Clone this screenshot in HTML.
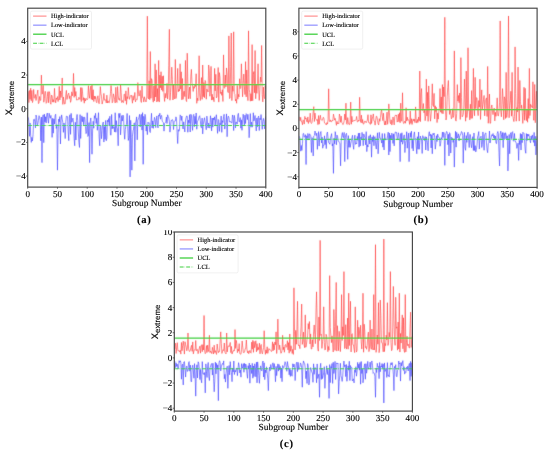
<!DOCTYPE html><html><head><meta charset="utf-8"><style>html,body{margin:0;padding:0;background:#fff}text{text-rendering:geometricPrecision}svg{display:block}.t{font-family:"Liberation Serif",serif;fill:#000;stroke:#000;stroke-width:0.12px}.m{font-family:"Liberation Sans",sans-serif;fill:#000;stroke:#000;stroke-width:0.12px}</style></head><body>
<svg width="550" height="454" viewBox="0 0 550 454">
<filter id="bl" x="0" y="0" width="550" height="454" filterUnits="userSpaceOnUse"><feConvolveMatrix order="3" kernelMatrix="0.0100 0.0800 0.0100 0.0800 0.6400 0.0800 0.0100 0.0800 0.0100" edgeMode="duplicate"/></filter>
<rect width="550" height="454" fill="#fff"/>
<g>
<clipPath id="axa"><rect x="27.7" y="8.2" width="238.10000000000002" height="178.9"/></clipPath>
<g filter="url(#bl)"><g clip-path="url(#axa)">
<polyline points="28.3,91.13 28.89,102.58 29.49,90.43 30.08,99.32 30.68,88.19 31.27,100.77 31.87,90.42 32.46,102.6 33.06,100.31 33.65,89.43 34.25,97.66 34.84,98.34 35.44,94.51 36.03,100.48 36.63,96.66 37.22,93.56 37.82,90.04 38.41,103.58 39.01,103.11 39.61,96.46 40.2,100.41 40.8,100.23 41.39,75.09 41.99,94.23 42.58,93.38 43.18,85.24 43.77,102.19 44.37,98.67 44.96,91.28 45.56,91.68 46.15,103.33 46.75,102.54 47.34,96.44 47.94,91.74 48.53,102.71 49.13,91.56 49.72,93.21 50.32,102.63 50.91,104.22 51.51,95.02 52.11,95.86 52.7,102.1 53.3,99.65 53.89,102.24 54.49,88.34 55.08,99.19 55.68,102.81 56.27,98.03 56.87,99.5 57.46,96.55 58.06,101.55 58.65,98.82 59.25,86.36 59.84,99.97 60.44,90.95 61.03,97.48 61.63,92.13 62.22,77.95 62.82,104.4 63.42,97.04 64.01,101.05 64.61,104.18 65.2,103.57 65.8,94.75 66.39,90.4 66.99,99.46 67.58,96 68.18,94.07 68.77,93.1 69.37,98.6 69.96,95.82 70.56,102.35 71.15,100.17 71.75,91.82 72.34,95.87 72.94,92.48 73.53,73.41 74.13,97.39 74.72,87.51 75.32,96.14 75.92,91.54 76.51,100.02 77.11,99.66 77.7,99.72 78.3,99.72 78.89,97.29 79.49,98.59 80.08,99.51 80.68,87.5 81.27,101.6 81.87,87.65 82.46,91.14 83.06,100.24 83.65,97.58 84.25,103.2 84.84,98.07 85.44,101.04 86.03,98.89 86.63,98.61 87.23,99.76 87.82,98.5 88.42,85.66 89.01,94.17 89.61,98.23 90.2,90.13 90.8,86.09 91.39,99.36 91.99,85.1 92.58,99.99 93.18,89.7 93.77,101.54 94.37,96.05 94.96,98.99 95.56,96.43 96.15,101.44 96.75,102.73 97.34,98 97.94,95.79 98.53,102.15 99.13,103.72 99.73,97.3 100.32,86.55 100.92,93.83 101.51,96.2 102.11,104.06 102.7,101.64 103.3,99.67 103.89,93.35 104.49,100.11 105.08,100.16 105.68,99.78 106.27,102.92 106.87,95.18 107.46,103.02 108.06,100.84 108.65,102.51 109.25,102.76 109.84,98.86 110.44,93.48 111.04,85.45 111.63,91.5 112.23,102.81 112.82,101.33 113.42,93.83 114.01,96.39 114.61,99.37 115.2,102.97 115.8,87.31 116.39,100.88 116.99,102.51 117.58,86.56 118.18,95.89 118.77,99.64 119.37,98.56 119.96,100.58 120.56,84.66 121.15,92.47 121.75,102.6 122.34,100.52 122.94,102.07 123.54,102.58 124.13,94.21 124.73,94.18 125.32,100.81 125.92,90.84 126.51,104.38 127.11,96.61 127.7,98.73 128.3,87.48 128.89,95.16 129.49,99.35 130.08,96.49 130.68,96.04 131.27,95.05 131.87,98.27 132.46,103.2 133.06,95.66 133.65,100.2 134.25,98.34 134.84,92.44 135.44,101.85 136.04,99.61 136.63,99.27 137.23,99.69 137.82,82.66 138.42,92.07 139.01,96.09 139.61,94.32 140.2,90.41 140.8,100.76 141.39,102.48 141.99,85.95 142.58,97.49 143.18,97.54 143.77,102.06 144.37,96.74 144.96,99.22 145.56,101.25 146.15,102.01 146.75,97.02 147.35,16.19 147.94,97.74 148.54,98.93 149.13,80.78 149.73,99.71 150.32,51.53 150.92,98.25 151.51,78.66 152.11,80.54 152.7,98.78 153.3,102.2 153.89,85.77 154.49,100.87 155.08,63.81 155.68,96.99 156.27,69.94 156.87,102.03 157.46,88.65 158.06,101.14 158.66,60.45 159.25,102.06 159.85,75.13 160.44,87.81 161.04,71.72 161.63,90.05 162.23,76.24 162.82,91.4 163.42,75.76 164.01,94.89 164.61,101.46 165.2,93.35 165.8,97.98 166.39,95.03 166.99,83.3 167.58,99.08 168.18,92.79 168.77,65.19 169.37,29.31 169.96,100.24 170.56,92.56 171.16,83.68 171.75,67.18 172.35,79.57 172.94,100.03 173.54,84.95 174.13,98.27 174.73,99.01 175.32,59.44 175.92,98.51 176.51,95.19 177.11,86.3 177.7,68.36 178.3,91.82 178.89,89.29 179.49,91.09 180.08,63.81 180.68,89.13 181.27,71.79 181.87,99.84 182.47,78.53 183.06,99.32 183.66,91.86 184.25,91.13 184.85,96.62 185.44,60.45 186.04,100.02 186.63,101.59 187.23,53.21 187.82,81.17 188.42,98.82 189.01,94.07 189.61,87.04 190.2,98.79 190.8,76.09 191.39,69.37 191.99,82.74 192.58,85.9 193.18,91.48 193.77,86.48 194.37,88.34 194.97,84.32 195.56,86.54 196.16,73.74 196.75,103.31 197.35,98.12 197.94,100.69 198.54,87.1 199.13,55.74 199.73,95.05 200.32,100.54 200.92,92.82 201.51,77.58 202.11,99.38 202.7,64.99 203.3,96.76 203.89,82.64 204.49,97.71 205.08,80.45 205.68,81.84 206.28,99.24 206.87,89.19 207.47,90.27 208.06,91.97 208.66,64.99 209.25,70.71 209.85,96.27 210.44,89.67 211.04,66.41 211.63,100.07 212.23,94.28 212.82,99.81 213.42,97.21 214.01,101.73 214.61,68.36 215.2,90.91 215.8,74.3 216.39,97.94 216.99,96.86 217.58,86.58 218.18,67.52 218.78,102.1 219.37,72.61 219.97,77.24 220.56,93.53 221.16,92.01 221.75,95.34 222.35,89.74 222.94,101.47 223.54,54.89 224.13,87.41 224.73,88.32 225.32,75.01 225.92,86.88 226.51,67.95 227.11,73.74 227.7,91.85 228.3,92.65 228.89,35.88 229.49,98.6 230.09,97.9 230.68,66.38 231.28,33.02 231.87,100.59 232.47,86.03 233.06,91.29 233.66,31.84 234.25,93.3 234.85,94.26 235.44,100.97 236.04,99.1 236.63,103.24 237.23,85.38 237.82,99.19 238.42,94.33 239.01,96.92 239.61,78.74 240.2,88.68 240.8,87.47 241.39,63.81 241.99,80.71 242.59,96.82 243.18,83.34 243.78,74.05 244.37,86.25 244.97,94.57 245.56,61.63 246.16,96.89 246.75,69.98 247.35,89.63 247.94,100.61 248.54,30.83 249.13,89.25 249.73,92.31 250.32,101.19 250.92,93.65 251.51,100.87 252.11,44.63 252.7,100.76 253.3,74.49 253.9,71.56 254.49,92.78 255.09,50.52 255.68,98.77 256.28,84.37 256.87,93.32 257.47,84 258.06,63.81 258.66,89.14 259.25,100.4 259.85,89.76 260.44,77.06 261.04,81.84 261.63,45.47 262.23,94.62 262.82,101.9 263.42,87.04 264.01,96.75 264.61,98.74 265.2,85.8 265.8,89.41" fill="none" stroke="#ff4444" stroke-width="0.65" stroke-linejoin="round"/>
<polyline points="28.3,117.27 28.89,122 29.49,136.26 30.08,123.06 30.68,135.68 31.27,142.41 31.87,137.37 32.46,140.93 33.06,134.76 33.65,119.55 34.25,119.1 34.84,121.51 35.44,127.89 36.03,115.06 36.63,117.45 37.22,125.77 37.82,123.97 38.41,120.42 39.01,115.67 39.61,117.2 40.2,120.43 40.8,140.79 41.39,117.01 41.99,162.61 42.58,117.87 43.18,114.83 43.77,142.66 44.37,114.14 44.96,121.87 45.56,116.77 46.15,123.06 46.75,114.37 47.34,113.01 47.94,119.05 48.53,123.21 49.13,113.26 49.72,116.78 50.32,118.23 50.91,115.38 51.51,120.99 52.11,137.36 52.7,118.24 53.3,133.16 53.89,118.92 54.49,123.97 55.08,115.73 55.68,114.23 56.27,128.48 56.87,124.58 57.46,170.18 58.06,133.71 58.65,119.04 59.25,121.78 59.84,116.57 60.44,143.99 61.03,120.67 61.63,114.9 62.22,119.13 62.82,122.36 63.42,132.36 64.01,123 64.61,127.47 65.2,138.58 65.8,121.72 66.39,116.17 66.99,116.65 67.58,116.6 68.18,131.83 68.77,140.65 69.37,117.24 69.96,114.74 70.56,134.36 71.15,113.35 71.75,122.23 72.34,120.62 72.94,118.12 73.53,122.98 74.13,138.75 74.72,145.78 75.32,122.28 75.92,139.99 76.51,117.59 77.11,114.41 77.7,120.31 78.3,131.97 78.89,142.14 79.49,147.46 80.08,114.61 80.68,138.48 81.27,122.88 81.87,115.84 82.46,121.7 83.06,116.95 83.65,124.84 84.25,117.02 84.84,117.59 85.44,126.88 86.03,133.61 86.63,131.89 87.23,112.71 87.82,136.43 88.42,135.47 89.01,122.57 89.61,162.61 90.2,121.51 90.8,117.91 91.39,128.47 91.99,154.19 92.58,131.04 93.18,121.26 93.77,128.24 94.37,115.73 94.96,118.38 95.56,113.25 96.15,123.4 96.75,118.17 97.34,130.28 97.94,120.34 98.53,112.67 99.13,137.03 99.73,145.78 100.32,126.75 100.92,125.74 101.51,138.72 102.11,130.63 102.7,123.41 103.3,122.03 103.89,142.06 104.49,126.56 105.08,139.39 105.68,120.44 106.27,140.73 106.87,138.37 107.46,120.2 108.06,122.06 108.65,118.59 109.25,125.95 109.84,116.28 110.44,134.8 111.04,135.17 111.63,114.47 112.23,128.75 112.82,124.94 113.42,128.22 114.01,127.42 114.61,131.98 115.2,112.78 115.8,132.22 116.39,120.63 116.99,127.66 117.58,128.86 118.18,145.78 118.77,113.47 119.37,117.59 119.96,113.3 120.56,134.83 121.15,125.51 121.75,115.62 122.34,121.06 122.94,115.08 123.54,116.21 124.13,131.98 124.73,139.25 125.32,129.59 125.92,125.43 126.51,124.16 127.11,113.45 127.7,126.9 128.3,140.41 128.89,137.45 129.49,115.51 130.08,176.91 130.68,120.32 131.27,137.43 131.87,170.18 132.46,136.19 133.06,130.78 133.65,129.14 134.25,122.89 134.84,160.92 135.44,122.27 136.04,121.17 136.63,116.88 137.23,139.83 137.82,120.29 138.42,118.88 139.01,117.3 139.61,114.31 140.2,126.97 140.8,116.38 141.39,114.39 141.99,130.09 142.58,112.63 143.18,164.29 143.77,116.28 144.37,125.32 144.96,114.28 145.56,116.66 146.15,131.08 146.75,124.81 147.35,134.67 147.94,122.28 148.54,123.12 149.13,122.59 149.73,131.79 150.32,132.52 150.92,122.55 151.51,113.31 152.11,127.84 152.7,120.91 153.3,128.4 153.89,122.31 154.49,117.35 155.08,119.62 155.68,127.57 156.27,120.49 156.87,115.93 157.46,125.74 158.06,127.88 158.66,114.92 159.25,116.2 159.85,113.2 160.44,119.18 161.04,115.91 161.63,115.36 162.23,121.18 162.82,121.9 163.42,122.68 164.01,131.15 164.61,123.32 165.2,122.79 165.8,122.02 166.39,117.09 166.99,123.53 167.58,114.79 168.18,116.45 168.77,117.84 169.37,121.24 169.96,132.12 170.56,126.44 171.16,120.43 171.75,120.59 172.35,119.5 172.94,120.91 173.54,129.59 174.13,121.65 174.73,121.02 175.32,121.02 175.92,116.85 176.51,118.34 177.11,132.77 177.7,143.59 178.3,129.59 178.89,131.26 179.49,129.96 180.08,114.88 180.68,115.69 181.27,120.45 181.87,116.02 182.47,125.15 183.06,129.01 183.66,121.85 184.25,127.33 184.85,131.94 185.44,121.03 186.04,117.91 186.63,115.97 187.23,116.15 187.82,132.27 188.42,120.19 189.01,122.8 189.61,114.66 190.2,132 190.8,114.23 191.39,115.04 191.99,123.68 192.58,130.38 193.18,115.72 193.77,114.39 194.37,126.75 194.97,116.3 195.56,123.78 196.16,112.99 196.75,129.26 197.35,121.71 197.94,120.65 198.54,119.1 199.13,116.72 199.73,115.71 200.32,120.41 200.92,127.34 201.51,127.78 202.11,118.04 202.7,133.9 203.3,124.36 203.89,120.71 204.49,117.71 205.08,122.08 205.68,125.66 206.28,129.75 206.87,116.12 207.47,121.96 208.06,127.92 208.66,123.14 209.25,127.4 209.85,128.14 210.44,115.75 211.04,120.52 211.63,130.89 212.23,118 212.82,127.13 213.42,118.01 214.01,119.87 214.61,116.78 215.2,125.8 215.8,118.48 216.39,114.72 216.99,123.79 217.58,133.37 218.18,119.44 218.78,120.06 219.37,131.42 219.97,123.4 220.56,124.7 221.16,115.95 221.75,132.35 222.35,120.58 222.94,122.49 223.54,116.66 224.13,114.32 224.73,129.07 225.32,124.79 225.92,122.39 226.51,113.91 227.11,136.69 227.7,118.95 228.3,116.11 228.89,117.51 229.49,121.98 230.09,121.97 230.68,121.46 231.28,122.84 231.87,122.96 232.47,114.96 233.06,117.24 233.66,130.57 234.25,115.3 234.85,118.46 235.44,127.86 236.04,121.95 236.63,122.37 237.23,124.08 237.82,114.96 238.42,113.34 239.01,121.84 239.61,121.59 240.2,117.56 240.8,128.17 241.39,119.8 241.99,130.32 242.59,120.66 243.18,114.21 243.78,118.87 244.37,125.42 244.97,115.14 245.56,123.55 246.16,113.62 246.75,114.24 247.35,119.6 247.94,114.38 248.54,121.7 249.13,137.7 249.73,126.93 250.32,113.61 250.92,127.09 251.51,122.12 252.11,127.19 252.7,126.06 253.3,112.77 253.9,120.92 254.49,118.78 255.09,115.51 255.68,123.73 256.28,130.91 256.87,118.02 257.47,126.8 258.06,117.58 258.66,116.02 259.25,130.5 259.85,118.29 260.44,119.63 261.04,114.55 261.63,120.26 262.23,129.31 262.82,121.35 263.42,118.37 264.01,121.24 264.61,128.92 265.2,120.06 265.8,116.58" fill="none" stroke="#4848ff" stroke-width="0.65" stroke-linejoin="round"/>
<line x1="27.7" x2="265.8" y1="84.7" y2="84.7" stroke="#3fcf3f" stroke-width="1.3"/>
<line x1="27.7" x2="265.8" y1="125.5" y2="125.5" stroke="#3fcf3f" stroke-width="1.1" stroke-dasharray="4.2 1 0.6 1.1"/>
</g></g>
<rect x="30.5" y="11.1" width="61" height="38" rx="1.5" fill="#fff" fill-opacity="0.9" stroke="#e6e6e6" stroke-width="0.6"/>
<line x1="33.1" x2="46.5" y1="16.1" y2="16.1" stroke="#ff7a7a" stroke-width="1.0"/>
<text class="t" x="51" y="18.4" font-size="6.4">High-indicator</text>
<line x1="33.1" x2="46.5" y1="25.15" y2="25.15" stroke="#7a7aff" stroke-width="1.0"/>
<text class="t" x="51" y="27.45" font-size="6.4">Low-indicator</text>
<line x1="33.1" x2="46.5" y1="34.2" y2="34.2" stroke="#3fcf3f" stroke-width="1.3"/>
<text class="t" x="51" y="36.5" font-size="6.4">UCL</text>
<line x1="33.1" x2="46.5" y1="43.25" y2="43.25" stroke="#3fcf3f" stroke-width="1.1" stroke-dasharray="3.9 1.1 0.4 1.1"/>
<text class="t" x="51" y="45.55" font-size="6.4">LCL</text>
<rect x="27.7" y="8.2" width="238.1" height="178.9" fill="none" stroke="#444" stroke-width="1.15"/>
<line x1="27.7" x2="27.7" y1="187.1" y2="188.7" stroke="#444" stroke-width="0.8"/>
<text class="t" x="27.7" y="196.5" font-size="9.1" text-anchor="middle">0</text>
<line x1="57.46" x2="57.46" y1="187.1" y2="188.7" stroke="#444" stroke-width="0.8"/>
<text class="t" x="57.46" y="196.5" font-size="9.1" text-anchor="middle">50</text>
<line x1="87.23" x2="87.23" y1="187.1" y2="188.7" stroke="#444" stroke-width="0.8"/>
<text class="t" x="87.23" y="196.5" font-size="9.1" text-anchor="middle">100</text>
<line x1="116.99" x2="116.99" y1="187.1" y2="188.7" stroke="#444" stroke-width="0.8"/>
<text class="t" x="116.99" y="196.5" font-size="9.1" text-anchor="middle">150</text>
<line x1="146.75" x2="146.75" y1="187.1" y2="188.7" stroke="#444" stroke-width="0.8"/>
<text class="t" x="146.75" y="196.5" font-size="9.1" text-anchor="middle">200</text>
<line x1="176.51" x2="176.51" y1="187.1" y2="188.7" stroke="#444" stroke-width="0.8"/>
<text class="t" x="176.51" y="196.5" font-size="9.1" text-anchor="middle">250</text>
<line x1="206.28" x2="206.28" y1="187.1" y2="188.7" stroke="#444" stroke-width="0.8"/>
<text class="t" x="206.28" y="196.5" font-size="9.1" text-anchor="middle">300</text>
<line x1="236.04" x2="236.04" y1="187.1" y2="188.7" stroke="#444" stroke-width="0.8"/>
<text class="t" x="236.04" y="196.5" font-size="9.1" text-anchor="middle">350</text>
<line x1="265.8" x2="265.8" y1="187.1" y2="188.7" stroke="#444" stroke-width="0.8"/>
<text class="t" x="265.8" y="196.5" font-size="9.1" text-anchor="middle">400</text>
<line x1="26.1" x2="27.7" y1="176.07" y2="176.07" stroke="#444" stroke-width="0.8"/>
<text class="t" x="25.8" y="179.07" font-size="9.1" text-anchor="end">−4</text>
<line x1="26.1" x2="27.7" y1="142.41" y2="142.41" stroke="#444" stroke-width="0.8"/>
<text class="t" x="25.8" y="145.41" font-size="9.1" text-anchor="end">−2</text>
<line x1="26.1" x2="27.7" y1="108.75" y2="108.75" stroke="#444" stroke-width="0.8"/>
<text class="t" x="25.8" y="111.75" font-size="9.1" text-anchor="end">0</text>
<line x1="26.1" x2="27.7" y1="75.09" y2="75.09" stroke="#444" stroke-width="0.8"/>
<text class="t" x="25.8" y="78.09" font-size="9.1" text-anchor="end">2</text>
<line x1="26.1" x2="27.7" y1="41.43" y2="41.43" stroke="#444" stroke-width="0.8"/>
<text class="t" x="25.8" y="44.43" font-size="9.1" text-anchor="end">4</text>
<text class="t" x="146.75" y="206.2" font-size="9.4" text-anchor="middle">Subgroup Number</text>
<text class="m" transform="translate(11.8,115.25) rotate(-90)" font-size="9.4"><tspan>X</tspan><tspan font-size="7.8" dy="1.9">extreme</tspan></text>
</g>
<text class="t" x="144.3" y="223.2" font-size="10.6" font-weight="bold" letter-spacing="0.7" text-anchor="middle">(a)</text>
<g>
<clipPath id="axb"><rect x="298.9" y="8.2" width="238.20000000000005" height="179.20000000000002"/></clipPath>
<g filter="url(#bl)"><g clip-path="url(#axb)">
<polyline points="299.5,116.85 300.09,120.79 300.69,117.31 301.28,121.63 301.88,121.6 302.47,124.78 303.07,119.84 303.66,120.54 304.26,124.09 304.85,116.39 305.45,119.08 306.05,118.06 306.64,121.22 307.24,122.12 307.83,116.94 308.43,123.52 309.02,120.71 309.62,121.45 310.21,113.14 310.81,122.46 311.41,123.5 312,122.46 312.6,117.7 313.19,111.92 313.79,106.68 314.38,121.51 314.98,113.09 315.57,118.67 316.17,119.2 316.76,120.44 317.36,119.54 317.96,124.64 318.55,115.55 319.15,124.16 319.74,119.07 320.34,115.22 320.93,119.39 321.53,120.04 322.12,120.59 322.72,119.15 323.32,117.25 323.91,118.49 324.51,123.05 325.1,123.37 325.7,123.79 326.29,125.01 326.89,122.62 327.48,124.09 328.08,119.8 328.67,88.81 329.27,120.37 329.87,121.74 330.46,119.9 331.06,121.81 331.65,121.64 332.25,120.38 332.84,120.97 333.44,114.09 334.03,116.7 334.63,120.13 335.23,118.38 335.82,121.42 336.42,125.31 337.01,121.35 337.61,123.99 338.2,123.32 338.8,123.71 339.39,114.05 339.99,116.43 340.58,122.27 341.18,116.11 341.78,122.44 342.37,123.35 342.97,124.62 343.56,123.53 344.16,120.93 344.75,114.06 345.35,120.04 345.94,103.18 346.54,123.79 347.14,124.42 347.73,117.58 348.33,122.58 348.92,124.42 349.52,124.62 350.11,121.15 350.71,102.09 351.3,124.24 351.9,116.33 352.5,121.75 353.09,121.06 353.69,120.88 354.28,119.97 354.88,120.84 355.47,120.29 356.07,119.64 356.66,116.44 357.26,121.81 357.85,122 358.45,120.01 359.05,120.9 359.64,97.26 360.24,118.58 360.83,122.45 361.43,115.13 362.02,123.02 362.62,119.49 363.21,124.16 363.81,124.01 364.4,121.93 365,120.91 365.6,121.83 366.19,122.77 366.79,121.23 367.38,120.18 367.98,114.68 368.57,122.49 369.17,122.86 369.76,122.71 370.36,124.43 370.96,114.84 371.55,123.46 372.15,119.05 372.74,116.79 373.34,113.91 373.93,121.13 374.53,121.18 375.12,125.11 375.72,120.09 376.31,116.22 376.91,116.55 377.51,120.38 378.1,123.88 378.7,124.9 379.29,118.69 379.89,121.31 380.48,117.72 381.08,111.59 381.67,109.94 382.27,116.26 382.87,120.64 383.46,113.19 384.06,121.4 384.65,124.89 385.25,120.97 385.84,125.01 386.44,118.8 387.03,112.18 387.63,124.31 388.23,117.03 388.82,103.9 389.42,112.74 390.01,122.03 390.61,123.76 391.2,119.74 391.8,125.06 392.39,123.11 392.99,116.97 393.58,120.34 394.18,124.91 394.78,116.56 395.37,115.2 395.97,115.73 396.56,114.97 397.16,122.09 397.75,120.55 398.35,114.25 398.94,121.73 399.54,112.75 400.13,122.76 400.73,103.18 401.33,120.79 401.92,121.18 402.52,92.79 403.11,121.93 403.71,123.55 404.3,122.62 404.9,121.06 405.49,123.22 406.09,107.77 406.69,121.12 407.28,117.26 407.88,120.19 408.47,119.78 409.07,120.82 409.66,124.44 410.26,110.93 410.85,123.37 411.45,118.73 412.05,124.49 412.64,120.91 413.24,118.9 413.83,121.07 414.43,119.3 415.02,122.66 415.62,106.92 416.21,120.36 416.81,123.09 417.4,119.46 418,122.37 418.6,117.05 419.19,120.85 419.79,71.05 420.38,121.68 420.98,94.04 421.57,88.57 422.17,110.56 422.76,110.09 423.36,103.54 423.96,112.75 424.55,110.26 425.15,120.69 425.74,115.79 426.34,79.15 426.93,115.94 427.53,92.38 428.12,121.36 428.72,85.91 429.31,106.83 429.91,113.25 430.51,121.19 431.1,114.9 431.7,105.38 432.29,83.81 432.89,105.11 433.48,106.54 434.08,93.4 434.67,118.86 435.27,105.79 435.87,111.58 436.46,107.41 437.06,122.59 437.65,113.16 438.25,119.13 438.84,111.31 439.44,107.53 440.03,88.57 440.63,112.15 441.22,96.93 441.82,113.32 442.42,84.58 443.01,113.8 443.61,87 444.2,96.58 444.8,17.31 445.39,106.85 445.99,119.99 446.58,117.27 447.18,96.66 447.77,87.33 448.37,80.47 448.97,97.28 449.56,114.43 450.16,109.68 450.75,113.39 451.35,118.87 451.94,117.58 452.54,108.77 453.13,117.51 453.73,115.46 454.33,50.89 454.92,105.96 455.52,120.12 456.11,121.11 456.71,113.54 457.3,84.58 457.9,101.04 458.49,95.54 459.09,102.69 459.69,92.97 460.28,119.45 460.88,57.65 461.47,97.39 462.07,116.86 462.66,116.37 463.26,114.21 463.85,106.88 464.45,79.15 465.04,101.28 465.64,121.21 466.24,71.05 466.83,117.51 467.43,111.96 468.02,47.75 468.62,110.33 469.21,109.67 469.81,119.89 470.4,104.21 471,118.42 471.6,90.57 472.19,118.37 472.79,112.98 473.38,68.4 473.98,100.42 474.57,115.78 475.17,77.33 475.76,108.68 476.36,97.73 476.95,97.87 477.55,109.72 478.15,115.63 478.74,100.56 479.34,107.09 479.93,79.15 480.53,119.45 481.12,104.83 481.72,89.89 482.31,109.07 482.91,104.65 483.5,99.47 484.1,95.48 484.7,115.84 485.29,100.69 485.89,99.31 486.48,97.86 487.08,116.49 487.67,66.46 488.27,123.28 488.86,109.36 489.46,94.12 490.06,123.43 490.65,123.07 491.25,107.81 491.84,104.96 492.44,110.89 493.03,114.63 493.63,110.06 494.22,107.99 494.82,120.82 495.42,112.33 496.01,116.33 496.61,109.63 497.2,97.87 497.8,115.19 498.39,116.09 498.99,111.41 499.58,102.21 500.18,20.93 500.77,110.46 501.37,116.79 501.97,104.73 502.56,88.57 503.16,100.42 503.75,119.79 504.35,96.84 504.94,98.83 505.54,118.5 506.13,72.38 506.73,117.52 507.33,112.75 507.92,99.39 508.52,15.98 509.11,117.77 509.71,105.63 510.3,100.92 510.9,91.27 511.49,116.15 512.09,72.38 512.68,113.99 513.28,118.82 513.88,121.58 514.47,116.56 515.07,46.9 515.66,93.58 516.26,121.22 516.85,107.61 517.45,111.83 518.04,67.07 518.64,104.46 519.24,121.07 519.83,80.47 520.43,101.22 521.02,108.57 521.62,105.11 522.21,112.17 522.81,123.36 523.4,109.64 524,87.24 524.59,120.28 525.19,88.34 525.79,112.9 526.38,120.66 526.98,109.42 527.57,122.25 528.17,98.61 528.76,118.35 529.36,68.4 529.95,115.59 530.55,104.26 531.14,106.39 531.74,105.82 532.34,107.93 532.93,81.8 533.53,120.05 534.12,120.35 534.72,84.46 535.31,122.72 535.91,102.56 536.5,91.22 537.1,108.17" fill="none" stroke="#ff4444" stroke-width="0.65" stroke-linejoin="round"/>
<polyline points="299.5,136.33 300.09,139.43 300.69,151.18 301.28,145.49 301.88,150.44 302.47,143.72 303.07,133.65 303.66,133.41 304.26,137.16 304.85,136.96 305.45,134.7 306.05,164.53 306.64,135.81 307.24,138.52 307.83,133.45 308.43,135.19 309.02,138.89 309.62,133.79 310.21,134.95 310.81,135.72 311.41,152.48 312,137.52 312.6,138.15 313.19,155.96 313.79,135.95 314.38,135.39 314.98,131.02 315.57,133.12 316.17,135.6 316.76,133.2 317.36,149.35 317.96,138.08 318.55,131.62 319.15,146.07 319.74,136.68 320.34,133.12 320.93,131.5 321.53,142.88 322.12,137.12 322.72,148.23 323.32,145.13 323.91,145.45 324.51,135.83 325.1,144.59 325.7,138.97 326.29,148.6 326.89,133.33 327.48,132.04 328.08,138.46 328.67,142.74 329.27,143 329.87,144.27 330.46,138.04 331.06,135.96 331.65,133.65 332.25,146.07 332.84,143.7 333.44,173.35 334.03,138.2 334.63,143.82 335.23,131.66 335.82,136.1 336.42,144.8 337.01,135.14 337.61,136.67 338.2,141.17 338.8,141.33 339.39,142.6 339.99,143.85 340.58,165.86 341.18,141.26 341.78,135.25 342.37,132.56 342.97,137.41 343.56,137.55 344.16,132.45 344.75,161.63 345.35,137.01 345.94,134.21 346.54,133.34 347.14,144.6 347.73,159.34 348.33,135.62 348.92,147.28 349.52,140.16 350.11,147.43 350.71,143.9 351.3,141.16 351.9,137.8 352.5,135.26 353.09,145.23 353.69,149.31 354.28,139.27 354.88,135.11 355.47,144.35 356.07,143.24 356.66,144.03 357.26,136.42 357.85,140.31 358.45,133.2 359.05,147.14 359.64,132.99 360.24,145.9 360.83,137.28 361.43,138.76 362.02,132.37 362.62,135.64 363.21,145.67 363.81,133.95 364.4,136.16 365,137.61 365.6,144.83 366.19,131.65 366.79,151.61 367.38,144.8 367.98,147 368.57,137.13 369.17,135.79 369.76,144.05 370.36,134.71 370.96,138.18 371.55,157.16 372.15,137.05 372.74,141.59 373.34,135.52 373.93,145.72 374.53,137.1 375.12,136.56 375.72,145.78 376.31,149.07 376.91,139.34 377.51,132.83 378.1,153.78 378.7,142.24 379.29,132.34 379.89,137.97 380.48,138.15 381.08,139.64 381.67,143.08 382.27,133.53 382.87,147.15 383.46,138.87 384.06,150.01 384.65,133.54 385.25,140.13 385.84,138.82 386.44,139.93 387.03,139.12 387.63,135.39 388.23,132.12 388.82,154.99 389.42,133.12 390.01,151.59 390.61,135.28 391.2,139.48 391.8,133.09 392.39,134.97 392.99,143.43 393.58,133.85 394.18,145.85 394.78,134.33 395.37,132.01 395.97,132.33 396.56,132.37 397.16,138.36 397.75,139.82 398.35,132.73 398.94,134.86 399.54,141.61 400.13,161.63 400.73,133.46 401.33,141.92 401.92,132.78 402.52,144.19 403.11,141.9 403.71,136.3 404.3,134.88 404.9,152.57 405.49,143.47 406.09,140.13 406.69,131.73 407.28,148.18 407.88,138.88 408.47,133.18 409.07,161.63 409.66,141.6 410.26,132.71 410.85,137.19 411.45,131.17 412.05,148.48 412.64,139.28 413.24,150.98 413.83,134.89 414.43,131.92 415.02,139.39 415.62,138.6 416.21,146.92 416.81,153.78 417.4,136.72 418,149.25 418.6,132.03 419.19,149.31 419.79,142.34 420.38,136.05 420.98,139.06 421.57,138.86 422.17,153.44 422.76,135.66 423.36,138.03 423.96,138.32 424.55,140.62 425.15,136.6 425.74,150.01 426.34,136.93 426.93,138.99 427.53,144.06 428.12,150.77 428.72,134.29 429.31,131.71 429.91,135.87 430.51,134.17 431.1,147.96 431.7,134.73 432.29,153.78 432.89,133.52 433.48,134.68 434.08,133.03 434.67,137.2 435.27,149.17 435.87,144.2 436.46,135.7 437.06,141.58 437.65,134.09 438.25,137.02 438.84,137.29 439.44,137.63 440.03,146.23 440.63,143.67 441.22,137.64 441.82,139.42 442.42,132.07 443.01,137.49 443.61,132.23 444.2,133 444.8,165.38 445.39,135.33 445.99,133.51 446.58,131.45 447.18,132.06 447.77,144.65 448.37,134.23 448.97,155.96 449.56,132.67 450.16,134.03 450.75,153.06 451.35,137.27 451.94,138.7 452.54,138.12 453.13,142.43 453.73,138.96 454.33,167.07 454.92,144.69 455.52,131.27 456.11,147.15 456.71,132.35 457.3,137.93 457.9,136.46 458.49,133.84 459.09,141 459.69,135.95 460.28,135.31 460.88,133.81 461.47,131.55 462.07,132.13 462.66,135.58 463.26,163.08 463.85,137.39 464.45,132.43 465.04,147.82 465.64,150.32 466.24,135.64 466.83,142.39 467.43,133.92 468.02,132.16 468.62,139.41 469.21,147.56 469.81,134.28 470.4,134.71 471,144.03 471.6,147.77 472.19,140.93 472.79,136.66 473.38,150.52 473.98,132.97 474.57,150.55 475.17,145.62 475.76,151.95 476.36,149.79 476.95,145.63 477.55,137 478.15,135.24 478.74,131.61 479.34,149.05 479.93,138.22 480.53,136.98 481.12,136.16 481.72,147.48 482.31,144.66 482.91,131.93 483.5,140.04 484.1,150.28 484.7,134.74 485.29,133.3 485.89,132.89 486.48,142.9 487.08,149.93 487.67,152.69 488.27,143.63 488.86,142.87 489.46,131.03 490.06,142.99 490.65,140.24 491.25,137.29 491.84,134.71 492.44,135.9 493.03,133.51 493.63,137.85 494.22,135.11 494.82,139.85 495.42,136.03 496.01,143.2 496.61,143.61 497.2,133.69 497.8,131.54 498.39,133.51 498.99,152.38 499.58,165.98 500.18,134.07 500.77,131.15 501.37,134.55 501.97,138.58 502.56,132.57 503.16,147.63 503.75,132.77 504.35,133.21 504.94,139.05 505.54,132.71 506.13,134.89 506.73,138.68 507.33,135.86 507.92,170.93 508.52,152.95 509.11,134.55 509.71,153.74 510.3,134.15 510.9,132.67 511.49,138.65 512.09,132.21 512.68,131.62 513.28,141.16 513.88,140.67 514.47,133.47 515.07,141.57 515.66,141.56 516.26,143.2 516.85,148.37 517.45,146.3 518.04,143.09 518.64,160.42 519.24,140.3 519.83,144.53 520.43,133.52 521.02,150.06 521.62,134.24 522.21,142.7 522.81,132.36 523.4,133 524,133.06 524.59,141.06 525.19,150.13 525.79,153.25 526.38,133.55 526.98,140.67 527.57,134.06 528.17,136.13 528.76,134.28 529.36,137.06 529.95,140.33 530.55,142.76 531.14,135.98 531.74,139.83 532.34,134.93 532.93,138.71 533.53,142.41 534.12,132.43 534.72,146.09 535.31,136.3 535.91,154.87 536.5,146.29 537.1,136.06" fill="none" stroke="#4848ff" stroke-width="0.65" stroke-linejoin="round"/>
<line x1="298.9" x2="537.1" y1="109.65" y2="109.65" stroke="#3fcf3f" stroke-width="1.3"/>
<line x1="298.9" x2="537.1" y1="139.4" y2="139.4" stroke="#3fcf3f" stroke-width="1.1" stroke-dasharray="4.2 1 0.6 1.1"/>
</g></g>
<rect x="301.7" y="11.1" width="61" height="38" rx="1.5" fill="#fff" fill-opacity="0.9" stroke="#e6e6e6" stroke-width="0.6"/>
<line x1="304.3" x2="317.7" y1="16.1" y2="16.1" stroke="#ff7a7a" stroke-width="1.0"/>
<text class="t" x="322.2" y="18.4" font-size="6.4">High-indicator</text>
<line x1="304.3" x2="317.7" y1="25.15" y2="25.15" stroke="#7a7aff" stroke-width="1.0"/>
<text class="t" x="322.2" y="27.45" font-size="6.4">Low-indicator</text>
<line x1="304.3" x2="317.7" y1="34.2" y2="34.2" stroke="#3fcf3f" stroke-width="1.3"/>
<text class="t" x="322.2" y="36.5" font-size="6.4">UCL</text>
<line x1="304.3" x2="317.7" y1="43.25" y2="43.25" stroke="#3fcf3f" stroke-width="1.1" stroke-dasharray="3.9 1.1 0.4 1.1"/>
<text class="t" x="322.2" y="45.55" font-size="6.4">LCL</text>
<rect x="298.9" y="8.2" width="238.2" height="179.2" fill="none" stroke="#444" stroke-width="1.15"/>
<line x1="298.9" x2="298.9" y1="187.4" y2="189" stroke="#444" stroke-width="0.8"/>
<text class="t" x="298.9" y="196.8" font-size="9.1" text-anchor="middle">0</text>
<line x1="328.67" x2="328.67" y1="187.4" y2="189" stroke="#444" stroke-width="0.8"/>
<text class="t" x="328.67" y="196.8" font-size="9.1" text-anchor="middle">50</text>
<line x1="358.45" x2="358.45" y1="187.4" y2="189" stroke="#444" stroke-width="0.8"/>
<text class="t" x="358.45" y="196.8" font-size="9.1" text-anchor="middle">100</text>
<line x1="388.23" x2="388.23" y1="187.4" y2="189" stroke="#444" stroke-width="0.8"/>
<text class="t" x="388.23" y="196.8" font-size="9.1" text-anchor="middle">150</text>
<line x1="418" x2="418" y1="187.4" y2="189" stroke="#444" stroke-width="0.8"/>
<text class="t" x="418" y="196.8" font-size="9.1" text-anchor="middle">200</text>
<line x1="447.77" x2="447.77" y1="187.4" y2="189" stroke="#444" stroke-width="0.8"/>
<text class="t" x="447.77" y="196.8" font-size="9.1" text-anchor="middle">250</text>
<line x1="477.55" x2="477.55" y1="187.4" y2="189" stroke="#444" stroke-width="0.8"/>
<text class="t" x="477.55" y="196.8" font-size="9.1" text-anchor="middle">300</text>
<line x1="507.33" x2="507.33" y1="187.4" y2="189" stroke="#444" stroke-width="0.8"/>
<text class="t" x="507.33" y="196.8" font-size="9.1" text-anchor="middle">350</text>
<line x1="537.1" x2="537.1" y1="187.4" y2="189" stroke="#444" stroke-width="0.8"/>
<text class="t" x="537.1" y="196.8" font-size="9.1" text-anchor="middle">400</text>
<line x1="297.3" x2="298.9" y1="176.73" y2="176.73" stroke="#444" stroke-width="0.8"/>
<text class="t" x="297" y="179.73" font-size="9.1" text-anchor="end">−4</text>
<line x1="297.3" x2="298.9" y1="152.57" y2="152.57" stroke="#444" stroke-width="0.8"/>
<text class="t" x="297" y="155.57" font-size="9.1" text-anchor="end">−2</text>
<line x1="297.3" x2="298.9" y1="128.42" y2="128.42" stroke="#444" stroke-width="0.8"/>
<text class="t" x="297" y="131.42" font-size="9.1" text-anchor="end">0</text>
<line x1="297.3" x2="298.9" y1="104.27" y2="104.27" stroke="#444" stroke-width="0.8"/>
<text class="t" x="297" y="107.27" font-size="9.1" text-anchor="end">2</text>
<line x1="297.3" x2="298.9" y1="80.11" y2="80.11" stroke="#444" stroke-width="0.8"/>
<text class="t" x="297" y="83.11" font-size="9.1" text-anchor="end">4</text>
<line x1="297.3" x2="298.9" y1="55.96" y2="55.96" stroke="#444" stroke-width="0.8"/>
<text class="t" x="297" y="58.96" font-size="9.1" text-anchor="end">6</text>
<line x1="297.3" x2="298.9" y1="31.8" y2="31.8" stroke="#444" stroke-width="0.8"/>
<text class="t" x="297" y="34.8" font-size="9.1" text-anchor="end">8</text>
<text class="t" x="418" y="206.5" font-size="9.4" text-anchor="middle">Subgroup Number</text>
<text class="m" transform="translate(283,115.4) rotate(-90)" font-size="9.4"><tspan>X</tspan><tspan font-size="7.8" dy="1.9">extreme</tspan></text>
</g>
<text class="t" x="421.1" y="222.8" font-size="10.6" font-weight="bold" letter-spacing="0.7" text-anchor="middle">(b)</text>
<clipPath id="clipc"><rect x="0" y="230.3" width="550" height="454"/></clipPath>
<g clip-path="url(#clipc)">
<clipPath id="axc"><rect x="174.3" y="232.0" width="238.09999999999997" height="179.10000000000002"/></clipPath>
<g filter="url(#bl)"><g clip-path="url(#axc)">
<polyline points="174.9,348.89 175.49,343.19 176.09,353.51 176.68,347.59 177.28,342.68 177.87,350.56 178.47,350.64 179.06,350.79 179.66,352.04 180.25,350.27 180.85,354.11 181.44,342.45 182.04,350.77 182.63,345.58 183.23,341.15 183.82,346.66 184.42,354.07 185.01,341.7 185.61,344.75 186.21,347.04 186.8,350.82 187.4,347.99 187.99,332.99 188.59,348.85 189.18,351.2 189.78,351.51 190.37,350 190.97,347.19 191.56,345.3 192.16,351.36 192.75,341.93 193.35,353.88 193.94,350.77 194.54,349.83 195.13,350.11 195.73,340.47 196.32,350.79 196.92,349.44 197.51,349.66 198.11,353.71 198.71,350.6 199.3,348.04 199.9,346.15 200.49,353.17 201.09,345.75 201.68,344.73 202.28,351.66 202.87,344.66 203.47,350.03 204.06,315.51 204.66,351.19 205.25,353.7 205.85,352.64 206.44,345.58 207.04,352.48 207.63,345.12 208.23,349.95 208.82,351.63 209.42,335.26 210.02,352.63 210.61,351.13 211.21,352.03 211.8,353.67 212.4,347.33 212.99,350.43 213.59,354.03 214.18,345.16 214.78,352.54 215.37,350.67 215.97,352.83 216.56,354.45 217.16,344 217.75,349.3 218.35,352.72 218.94,351.1 219.54,351.45 220.13,340.96 220.73,331.86 221.32,343.35 221.92,353.45 222.52,351.05 223.11,349.67 223.71,350.64 224.3,343 224.9,352.6 225.49,353.09 226.09,353.85 226.68,332.99 227.28,351.92 227.87,346.38 228.47,345.84 229.06,346.79 229.66,345.11 230.25,342.45 230.85,352.61 231.44,346.43 232.04,354.05 232.63,351.68 233.23,351.61 233.82,349.9 234.42,350.69 235.02,329.59 235.61,348.43 236.21,340.3 236.8,343.61 237.4,352.65 237.99,349.12 238.59,351.14 239.18,343.61 239.78,353.42 240.37,354.21 240.97,354.1 241.56,349.39 242.16,340.95 242.75,347.14 243.35,352.46 243.94,352.77 244.54,352.12 245.13,348.72 245.73,348.64 246.33,339.98 246.92,349.01 247.52,352.79 248.11,350.88 248.71,353.76 249.3,352.14 249.9,350.39 250.49,352.55 251.09,353.16 251.68,342.12 252.28,349.16 252.87,340.3 253.47,352.32 254.06,341.4 254.66,347.76 255.25,344.92 255.85,340.75 256.44,351.87 257.04,343.63 257.63,350.37 258.23,347.37 258.83,349.64 259.42,343.16 260.02,353.86 260.61,345.98 261.21,344.42 261.8,352.28 262.4,353.86 262.99,350.37 263.59,347.55 264.18,330.73 264.78,347.84 265.37,354.36 265.97,349.87 266.56,353.21 267.16,346.75 267.75,353.43 268.35,351.42 268.94,348.55 269.54,349.76 270.14,349.58 270.73,350.32 271.33,351.62 271.92,351.07 272.52,341.84 273.11,350.77 273.71,343.73 274.3,349.85 274.9,341.98 275.49,344.68 276.09,331.86 276.68,353.51 277.28,343.92 277.87,319.15 278.47,342.53 279.06,349.73 279.66,345.09 280.25,348.99 280.85,353.39 281.44,352.81 282.04,350.29 282.64,335.26 283.23,349.72 283.83,347 284.42,352.25 285.02,345.32 285.61,344.45 286.21,347.34 286.8,346.48 287.4,340.69 287.99,349.9 288.59,342.6 289.18,353.17 289.78,334 290.37,351.39 290.97,345.74 291.56,348.22 292.16,353.47 292.75,349.34 293.35,354.41 293.95,287.83 294.54,331.25 295.14,349.9 295.73,330.33 296.33,344.24 296.92,329.98 297.52,301.29 298.11,343.89 298.71,345.96 299.3,345.31 299.9,348.68 300.49,336.66 301.09,326.18 301.68,304.06 302.28,344.4 302.87,341.18 303.47,332.1 304.06,344.58 304.66,347.69 305.25,314.88 305.85,347.24 306.45,344.61 307.04,339.74 307.64,335.87 308.23,323.62 308.83,329.07 309.42,321.54 310.02,344.03 310.61,333.91 311.21,348.97 311.8,349.01 312.4,339.63 312.99,346.9 313.59,331.91 314.18,324.96 314.78,334.48 315.37,343.65 315.97,312.18 316.56,291.85 317.16,319.95 317.76,348.28 318.35,351.14 318.95,316.96 319.54,340.47 320.14,240.4 320.73,335.35 321.33,334.27 321.92,348.37 322.52,341.65 323.11,337.72 323.71,306.83 324.3,342.55 324.9,350.09 325.49,349.24 326.09,334.31 326.68,336.15 327.28,344.6 327.87,351.71 328.47,346.56 329.06,350.25 329.66,275.63 330.26,327.45 330.85,335.34 331.45,342.63 332.04,335.85 332.64,342 333.23,352.01 333.83,309.47 334.42,326.7 335.02,350.4 335.61,318.19 336.21,282.42 336.8,351.13 337.4,325.69 337.99,336.19 338.59,350.66 339.18,331.36 339.78,338.07 340.37,351.6 340.97,339.26 341.57,294.62 342.16,340.51 342.76,326.77 343.35,335.43 343.95,271.6 344.54,348.49 345.14,347.85 345.73,324.68 346.33,349.11 346.92,346.94 347.52,318.14 348.11,349.2 348.71,293.24 349.3,345.6 349.9,326.04 350.49,301.29 351.09,351.93 351.68,334.46 352.28,333.66 352.88,344.71 353.47,344.88 354.07,349.34 354.66,352.61 355.26,306.83 355.85,342.53 356.45,352.08 357.04,350.38 357.64,320.16 358.23,338.59 358.83,327.23 359.42,330.97 360.02,338.04 360.61,325.22 361.21,341.94 361.8,349.07 362.4,337.58 362.99,293.24 363.59,352.22 364.18,324.19 364.78,331.13 365.38,347.56 365.97,346.54 366.57,349.27 367.16,345.84 367.76,336.55 368.35,332.13 368.95,351.61 369.54,347.02 370.14,320.16 370.73,346.72 371.33,349.29 371.92,329.08 372.52,347.6 373.11,350.02 373.71,294.62 374.3,350.02 374.9,337.95 375.49,244.68 376.09,352.36 376.69,344.99 377.28,335 377.88,344.18 378.47,302.67 379.07,352.67 379.66,348.12 380.26,300.03 380.85,315.67 381.45,342.24 382.04,342.36 382.64,344.89 383.23,351.8 383.83,239.02 384.42,351.64 385.02,343.4 385.61,345.66 386.21,335.22 386.8,340.01 387.4,302.67 387.99,345.49 388.59,342.43 389.19,332.43 389.78,337.16 390.38,271.6 390.97,342.36 391.57,350.71 392.16,349.37 392.76,327.12 393.35,286.45 393.95,319.7 394.54,340.16 395.14,345.38 395.73,297.26 396.33,328.28 396.92,326.85 397.52,350.15 398.11,322.04 398.71,348.97 399.3,293.24 399.9,352.05 400.5,333.46 401.09,343.03 401.69,329.46 402.28,314.88 402.88,348.8 403.47,317.81 404.07,350.63 404.66,352.43 405.26,294.62 405.85,351.91 406.45,342.07 407.04,336.15 407.64,345.67 408.23,344.17 408.83,346.92 409.42,348.13 410.02,328.37 410.61,312.11 411.21,347.46 411.8,337.53 412.4,336.18" fill="none" stroke="#ff4444" stroke-width="0.65" stroke-linejoin="round"/>
<polyline points="174.9,361.15 175.49,367.73 176.09,362.86 176.68,366.36 177.28,364.2 177.87,369.04 178.47,368.47 179.06,360.74 179.66,362.43 180.25,360.72 180.85,362.4 181.44,379.2 182.04,365.12 182.63,364.08 183.23,384.95 183.82,362.04 184.42,361.53 185.01,368.65 185.61,377.06 186.21,367.67 186.8,366.05 187.4,371.39 187.99,371.05 188.59,362.64 189.18,361.58 189.78,371.23 190.37,365.12 190.97,381.26 191.56,381.89 192.16,367.4 192.75,365.2 193.35,370.82 193.94,378.23 194.54,363.6 195.13,376.06 195.73,396.14 196.32,370.21 196.92,364.78 197.51,377.93 198.11,361.79 198.71,362.95 199.3,368.82 199.9,379.53 200.49,369.49 201.09,379.58 201.68,382.81 202.28,361.62 202.87,373.72 203.47,373.13 204.06,374.79 204.66,372.49 205.25,392.87 205.85,363.9 206.44,371.9 207.04,377.49 207.63,366.32 208.23,362.47 208.82,376.85 209.42,380.54 210.02,367.85 210.61,365.85 211.21,364.24 211.8,363.41 212.4,375.06 212.99,363.29 213.59,378.56 214.18,391.74 214.78,381.13 215.37,362.17 215.97,373.86 216.56,363.41 217.16,368.97 217.75,364.93 218.35,400.67 218.94,363.06 219.54,360.72 220.13,362.41 220.73,370.94 221.32,366.84 221.92,364.73 222.52,363.43 223.11,364.54 223.71,360.87 224.3,378.71 224.9,374.4 225.49,382.07 226.09,373.08 226.68,367.87 227.28,366.18 227.87,388.34 228.47,372.69 229.06,365.49 229.66,374.79 230.25,361.64 230.85,369.43 231.44,372.57 232.04,381.68 232.63,368.13 233.23,371.92 233.82,360.98 234.42,374.51 235.02,370.37 235.61,371.88 236.21,369.26 236.8,367.91 237.4,375.66 237.99,368.92 238.59,362.68 239.18,366.01 239.78,372.87 240.37,369.94 240.97,377.15 241.56,363.7 242.16,368.33 242.75,366.84 243.35,363.59 243.94,372.25 244.54,363.39 245.13,368.85 245.73,364.02 246.33,365.85 246.92,373.35 247.52,378.28 248.11,365.72 248.71,368.92 249.3,363.11 249.9,383.17 250.49,365.02 251.09,367.93 251.68,373.54 252.28,363.33 252.87,378.19 253.47,365.97 254.06,376.51 254.66,363.79 255.25,366.57 255.85,376.81 256.44,362.15 257.04,382.85 257.63,361.92 258.23,367.49 258.83,375.47 259.42,383.31 260.02,370.92 260.61,365.9 261.21,369.38 261.8,370.88 262.4,363.21 262.99,360.99 263.59,377 264.18,362.8 264.78,379.65 265.37,369.9 265.97,372.76 266.56,366.79 267.16,372.91 267.75,378.17 268.35,390.61 268.94,372.71 269.54,367.13 270.14,370.87 270.73,364.51 271.33,368.92 271.92,368.97 272.52,363.26 273.11,362.83 273.71,369.19 274.3,363.63 274.9,369.94 275.49,381.74 276.09,366.35 276.68,375.61 277.28,368.62 277.87,363.89 278.47,371.11 279.06,364.5 279.66,369.72 280.25,366.49 280.85,378.11 281.44,368.18 282.04,381.68 282.64,365.53 283.23,367.16 283.83,367.81 284.42,365.41 285.02,361.71 285.61,362.87 286.21,366.59 286.8,371.27 287.4,361.54 287.99,365.49 288.59,367.13 289.18,374.81 289.78,368.3 290.37,376.41 290.97,369.89 291.56,375.23 292.16,376.19 292.75,363.78 293.35,367.08 293.95,364.09 294.54,365.32 295.14,380.54 295.73,369.62 296.33,363.17 296.92,362.15 297.52,371.62 298.11,362.37 298.71,369.53 299.3,367.68 299.9,366.84 300.49,362.92 301.09,364.34 301.68,368.03 302.28,387.21 302.87,365.63 303.47,360.93 304.06,363 304.66,363.45 305.25,368.13 305.85,378.69 306.45,371.05 307.04,383.48 307.64,363.61 308.23,366.19 308.83,384.95 309.42,382.78 310.02,371.92 310.61,367.59 311.21,369.56 311.8,372.1 312.4,373.06 312.99,382.31 313.59,363.82 314.18,374.33 314.78,367.59 315.37,367.93 315.97,368.23 316.56,382.72 317.16,363.91 317.76,378.47 318.35,376.03 318.95,374.11 319.54,397.28 320.14,368.17 320.73,363.31 321.33,379.42 321.92,368.1 322.52,378.65 323.11,375.68 323.71,372.97 324.3,366.68 324.9,388.34 325.49,374.56 326.09,372.19 326.68,365.83 327.28,374.55 327.87,369.27 328.47,373.44 329.06,398.41 329.66,364.59 330.26,382.64 330.85,366.67 331.45,367.95 332.04,363.52 332.64,383.39 333.23,362.28 333.83,373.52 334.42,370.33 335.02,361.4 335.61,379.46 336.21,364.3 336.8,362.87 337.4,363.96 337.99,363.15 338.59,393.88 339.18,381.49 339.78,375.79 340.37,363.25 340.97,375.62 341.57,378.06 342.16,381.4 342.76,376.11 343.35,365.75 343.95,360.99 344.54,366.62 345.14,364.92 345.73,376.6 346.33,364.45 346.92,381.29 347.52,373.3 348.11,365.89 348.71,370.19 349.3,361.26 349.9,380.54 350.49,365.52 351.09,368.18 351.68,367.52 352.28,380.93 352.88,380.04 353.47,378.83 354.07,382.89 354.66,369.79 355.26,372.43 355.85,366.75 356.45,376.18 357.04,372.25 357.64,362.38 358.23,368.32 358.83,364.15 359.42,370.16 360.02,362.42 360.61,384.19 361.21,361.46 361.8,373.49 362.4,369.13 362.99,382.81 363.59,377.91 364.18,366.02 364.78,363.81 365.38,379.24 365.97,363.7 366.57,373.18 367.16,369 367.76,361.33 368.35,369.18 368.95,367.38 369.54,366.71 370.14,362.14 370.73,369.56 371.33,362.41 371.92,360.95 372.52,365.15 373.11,373.37 373.71,372.63 374.3,373.25 374.9,376.23 375.49,397.28 376.09,368.25 376.69,372.53 377.28,363.29 377.88,367 378.47,366.52 379.07,378.65 379.66,362.52 380.26,371.76 380.85,366.11 381.45,367.09 382.04,363.5 382.64,368.07 383.23,364.22 383.83,402.94 384.42,362.91 385.02,371.48 385.61,370.24 386.21,368.59 386.8,377.42 387.4,362.61 387.99,375.76 388.59,374.92 389.19,377.05 389.78,370.14 390.38,365.17 390.97,362.74 391.57,364.78 392.16,362.58 392.76,367.3 393.35,374.13 393.95,390.61 394.54,366.43 395.14,368.24 395.73,364.67 396.33,376.16 396.92,376.82 397.52,370.27 398.11,369.75 398.71,361.06 399.3,363.84 399.9,363.04 400.5,381.07 401.09,362.46 401.69,365.95 402.28,363.24 402.88,360.64 403.47,370.44 404.07,366.75 404.66,374.14 405.26,371.7 405.85,372.48 406.45,367.25 407.04,369.07 407.64,366.16 408.23,370.97 408.83,365.44 409.42,363.37 410.02,380.54 410.61,361.42 411.21,376.45 411.8,362.84 412.4,374.86" fill="none" stroke="#4848ff" stroke-width="0.65" stroke-linejoin="round"/>
<line x1="174.3" x2="412.4" y1="338.2" y2="338.2" stroke="#3fcf3f" stroke-width="1.3"/>
<line x1="174.3" x2="412.4" y1="368.7" y2="368.7" stroke="#3fcf3f" stroke-width="1.1" stroke-dasharray="4.2 1 0.6 1.1"/>
</g></g>
<rect x="177.1" y="234.9" width="61" height="38" rx="1.5" fill="#fff" fill-opacity="0.9" stroke="#e6e6e6" stroke-width="0.6"/>
<line x1="179.7" x2="193.1" y1="239.9" y2="239.9" stroke="#ff7a7a" stroke-width="1.0"/>
<text class="t" x="197.6" y="242.2" font-size="6.4">High-indicator</text>
<line x1="179.7" x2="193.1" y1="248.95" y2="248.95" stroke="#7a7aff" stroke-width="1.0"/>
<text class="t" x="197.6" y="251.25" font-size="6.4">Low-indicator</text>
<line x1="179.7" x2="193.1" y1="258" y2="258" stroke="#3fcf3f" stroke-width="1.3"/>
<text class="t" x="197.6" y="260.3" font-size="6.4">UCL</text>
<line x1="179.7" x2="193.1" y1="267.05" y2="267.05" stroke="#3fcf3f" stroke-width="1.1" stroke-dasharray="3.9 1.1 0.4 1.1"/>
<text class="t" x="197.6" y="269.35" font-size="6.4">LCL</text>
<rect x="174.3" y="232.0" width="238.1" height="179.1" fill="none" stroke="#444" stroke-width="1.15"/>
<line x1="174.3" x2="174.3" y1="411.1" y2="412.7" stroke="#444" stroke-width="0.8"/>
<text class="t" x="174.3" y="420.5" font-size="9.1" text-anchor="middle">0</text>
<line x1="204.06" x2="204.06" y1="411.1" y2="412.7" stroke="#444" stroke-width="0.8"/>
<text class="t" x="204.06" y="420.5" font-size="9.1" text-anchor="middle">50</text>
<line x1="233.82" x2="233.82" y1="411.1" y2="412.7" stroke="#444" stroke-width="0.8"/>
<text class="t" x="233.82" y="420.5" font-size="9.1" text-anchor="middle">100</text>
<line x1="263.59" x2="263.59" y1="411.1" y2="412.7" stroke="#444" stroke-width="0.8"/>
<text class="t" x="263.59" y="420.5" font-size="9.1" text-anchor="middle">150</text>
<line x1="293.35" x2="293.35" y1="411.1" y2="412.7" stroke="#444" stroke-width="0.8"/>
<text class="t" x="293.35" y="420.5" font-size="9.1" text-anchor="middle">200</text>
<line x1="323.11" x2="323.11" y1="411.1" y2="412.7" stroke="#444" stroke-width="0.8"/>
<text class="t" x="323.11" y="420.5" font-size="9.1" text-anchor="middle">250</text>
<line x1="352.88" x2="352.88" y1="411.1" y2="412.7" stroke="#444" stroke-width="0.8"/>
<text class="t" x="352.88" y="420.5" font-size="9.1" text-anchor="middle">300</text>
<line x1="382.64" x2="382.64" y1="411.1" y2="412.7" stroke="#444" stroke-width="0.8"/>
<text class="t" x="382.64" y="420.5" font-size="9.1" text-anchor="middle">350</text>
<line x1="412.4" x2="412.4" y1="411.1" y2="412.7" stroke="#444" stroke-width="0.8"/>
<text class="t" x="412.4" y="420.5" font-size="9.1" text-anchor="middle">400</text>
<line x1="172.7" x2="174.3" y1="408.22" y2="408.22" stroke="#444" stroke-width="0.8"/>
<text class="t" x="172.4" y="411.22" font-size="9.1" text-anchor="end">−4</text>
<line x1="172.7" x2="174.3" y1="383.06" y2="383.06" stroke="#444" stroke-width="0.8"/>
<text class="t" x="172.4" y="386.06" font-size="9.1" text-anchor="end">−2</text>
<line x1="172.7" x2="174.3" y1="357.9" y2="357.9" stroke="#444" stroke-width="0.8"/>
<text class="t" x="172.4" y="360.9" font-size="9.1" text-anchor="end">0</text>
<line x1="172.7" x2="174.3" y1="332.74" y2="332.74" stroke="#444" stroke-width="0.8"/>
<text class="t" x="172.4" y="335.74" font-size="9.1" text-anchor="end">2</text>
<line x1="172.7" x2="174.3" y1="307.58" y2="307.58" stroke="#444" stroke-width="0.8"/>
<text class="t" x="172.4" y="310.58" font-size="9.1" text-anchor="end">4</text>
<line x1="172.7" x2="174.3" y1="282.42" y2="282.42" stroke="#444" stroke-width="0.8"/>
<text class="t" x="172.4" y="285.42" font-size="9.1" text-anchor="end">6</text>
<line x1="172.7" x2="174.3" y1="257.26" y2="257.26" stroke="#444" stroke-width="0.8"/>
<text class="t" x="172.4" y="260.26" font-size="9.1" text-anchor="end">8</text>
<line x1="172.7" x2="174.3" y1="232.1" y2="232.1" stroke="#444" stroke-width="0.8"/>
<text class="t" x="172.4" y="235.1" font-size="9.1" text-anchor="end">10</text>
<text class="t" x="293.35" y="430.2" font-size="9.4" text-anchor="middle">Subgroup Number</text>
<text class="m" transform="translate(158.4,339.15) rotate(-90)" font-size="9.4"><tspan>X</tspan><tspan font-size="7.8" dy="1.9">extreme</tspan></text>
</g>
<text class="t" x="286.8" y="446.9" font-size="10.6" font-weight="bold" letter-spacing="0.7" text-anchor="middle">(c)</text>
</svg></body></html>
